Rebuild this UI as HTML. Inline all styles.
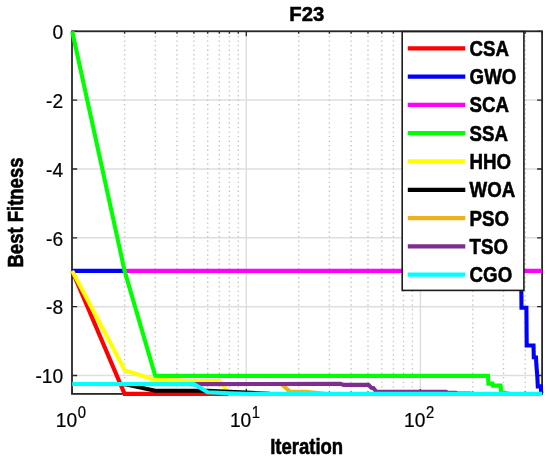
<!DOCTYPE html>
<html><head><meta charset="utf-8"><title>F23</title>
<style>
html,body{margin:0;padding:0;background:#fff;}
body{width:550px;height:460px;overflow:hidden;}
svg{display:block;}
text{font-family:"Liberation Sans",Arial,Helvetica,sans-serif;fill:#000;stroke:#000;stroke-width:0.2px;}
text.b{font-weight:bold;fill:#000;stroke:#000;stroke-width:0.5px;}
</style></head><body>
<svg width="550" height="460" viewBox="0 0 550 460">
<rect width="550" height="460" fill="#fff"/>
<line x1="72.2" x2="542.1" y1="31.3" y2="31.3" stroke="#dedede" stroke-width="1.5"/>
<line x1="72.2" x2="542.1" y1="100.1" y2="100.1" stroke="#dedede" stroke-width="1.5"/>
<line x1="72.2" x2="542.1" y1="169.0" y2="169.0" stroke="#dedede" stroke-width="1.5"/>
<line x1="72.2" x2="542.1" y1="237.8" y2="237.8" stroke="#dedede" stroke-width="1.5"/>
<line x1="72.2" x2="542.1" y1="306.7" y2="306.7" stroke="#dedede" stroke-width="1.5"/>
<line x1="72.2" x2="542.1" y1="375.5" y2="375.5" stroke="#dedede" stroke-width="1.5"/>
<line x1="124.6" x2="124.6" y1="31.3" y2="393.9" stroke="#c6c6c6" stroke-width="1.4" stroke-dasharray="1.4 3.15"/>
<line x1="155.3" x2="155.3" y1="31.3" y2="393.9" stroke="#c6c6c6" stroke-width="1.4" stroke-dasharray="1.4 3.15"/>
<line x1="177.0" x2="177.0" y1="31.3" y2="393.9" stroke="#c6c6c6" stroke-width="1.4" stroke-dasharray="1.4 3.15"/>
<line x1="193.9" x2="193.9" y1="31.3" y2="393.9" stroke="#c6c6c6" stroke-width="1.4" stroke-dasharray="1.4 3.15"/>
<line x1="207.7" x2="207.7" y1="31.3" y2="393.9" stroke="#c6c6c6" stroke-width="1.4" stroke-dasharray="1.4 3.15"/>
<line x1="219.3" x2="219.3" y1="31.3" y2="393.9" stroke="#c6c6c6" stroke-width="1.4" stroke-dasharray="1.4 3.15"/>
<line x1="229.4" x2="229.4" y1="31.3" y2="393.9" stroke="#c6c6c6" stroke-width="1.4" stroke-dasharray="1.4 3.15"/>
<line x1="238.3" x2="238.3" y1="31.3" y2="393.9" stroke="#c6c6c6" stroke-width="1.4" stroke-dasharray="1.4 3.15"/>
<line x1="246.3" x2="246.3" y1="31.3" y2="393.9" stroke="#dedede" stroke-width="1.5"/>
<line x1="298.7" x2="298.7" y1="31.3" y2="393.9" stroke="#c6c6c6" stroke-width="1.4" stroke-dasharray="1.4 3.15"/>
<line x1="329.4" x2="329.4" y1="31.3" y2="393.9" stroke="#c6c6c6" stroke-width="1.4" stroke-dasharray="1.4 3.15"/>
<line x1="351.1" x2="351.1" y1="31.3" y2="393.9" stroke="#c6c6c6" stroke-width="1.4" stroke-dasharray="1.4 3.15"/>
<line x1="368.0" x2="368.0" y1="31.3" y2="393.9" stroke="#c6c6c6" stroke-width="1.4" stroke-dasharray="1.4 3.15"/>
<line x1="381.8" x2="381.8" y1="31.3" y2="393.9" stroke="#c6c6c6" stroke-width="1.4" stroke-dasharray="1.4 3.15"/>
<line x1="393.4" x2="393.4" y1="31.3" y2="393.9" stroke="#c6c6c6" stroke-width="1.4" stroke-dasharray="1.4 3.15"/>
<line x1="403.5" x2="403.5" y1="31.3" y2="393.9" stroke="#c6c6c6" stroke-width="1.4" stroke-dasharray="1.4 3.15"/>
<line x1="412.4" x2="412.4" y1="31.3" y2="393.9" stroke="#c6c6c6" stroke-width="1.4" stroke-dasharray="1.4 3.15"/>
<line x1="420.4" x2="420.4" y1="31.3" y2="393.9" stroke="#dedede" stroke-width="1.5"/>
<line x1="472.8" x2="472.8" y1="31.3" y2="393.9" stroke="#c6c6c6" stroke-width="1.4" stroke-dasharray="1.4 3.15"/>
<line x1="503.5" x2="503.5" y1="31.3" y2="393.9" stroke="#c6c6c6" stroke-width="1.4" stroke-dasharray="1.4 3.15"/>
<line x1="525.2" x2="525.2" y1="31.3" y2="393.9" stroke="#c6c6c6" stroke-width="1.4" stroke-dasharray="1.4 3.15"/>
<line x1="542.1" x2="542.1" y1="31.3" y2="393.9" stroke="#c6c6c6" stroke-width="1.4" stroke-dasharray="1.4 3.15"/>
<rect x="72.0" y="31.3" width="470.1" height="362.6" fill="none" stroke="#262626" stroke-width="1.8"/>
<path d="M72.2 31.3h5M542.1 31.3h-5M72.2 100.1h5M542.1 100.1h-5M72.2 169.0h5M542.1 169.0h-5M72.2 237.8h5M542.1 237.8h-5M72.2 306.7h5M542.1 306.7h-5M72.2 375.5h5M542.1 375.5h-5M72.2 393.9v-5M72.2 31.3v5M124.6 393.9v-2.5M124.6 31.3v2.5M155.3 393.9v-2.5M155.3 31.3v2.5M177.0 393.9v-2.5M177.0 31.3v2.5M193.9 393.9v-2.5M193.9 31.3v2.5M207.7 393.9v-2.5M207.7 31.3v2.5M219.3 393.9v-2.5M219.3 31.3v2.5M229.4 393.9v-2.5M229.4 31.3v2.5M238.3 393.9v-2.5M238.3 31.3v2.5M246.3 393.9v-5M246.3 31.3v5M298.7 393.9v-2.5M298.7 31.3v2.5M329.4 393.9v-2.5M329.4 31.3v2.5M351.1 393.9v-2.5M351.1 31.3v2.5M368.0 393.9v-2.5M368.0 31.3v2.5M381.8 393.9v-2.5M381.8 31.3v2.5M393.4 393.9v-2.5M393.4 31.3v2.5M403.5 393.9v-2.5M403.5 31.3v2.5M412.4 393.9v-2.5M412.4 31.3v2.5M420.4 393.9v-5M420.4 31.3v5M472.8 393.9v-2.5M472.8 31.3v2.5M503.5 393.9v-2.5M503.5 31.3v2.5M525.2 393.9v-2.5M525.2 31.3v2.5M542.1 393.9v-2.5M542.1 31.3v2.5" stroke="#262626" stroke-width="1.3" fill="none"/>
<clipPath id="c"><rect x="70.2" y="29.3" width="473.4" height="366.9"/></clipPath>
<g clip-path="url(#c)" fill="none" stroke-linejoin="miter" stroke-linecap="butt">
<polyline points="72.2,270.9 124.6,393.9 252.0,393.9" stroke="#ff0000" stroke-width="4.1"/>
<polyline points="72.2,270.9 123.0,270.9" stroke="#0000ff" stroke-width="4.1"/>
<polyline points="518.0,270.9 521.2,270.9 521.5,307.7 526.4,307.7 526.7,345.5 533.5,345.5 533.8,357.3 536.0,357.5 536.4,365.0 537.3,376.0 537.8,386.4 540.8,386.4 541.2,392.0 542.1,393.5" stroke="#0000ff" stroke-width="4.1"/>
<polyline points="123.0,270.9 542.1,270.9" stroke="#ff00ff" stroke-width="4.1"/>
<polyline points="72.2,31.3 124.6,270.9 155.3,375.9 488.0,375.9 488.4,383.6 492.5,383.6 493.0,385.6 500.6,385.6 501.2,392.0 509.0,393.8" stroke="#00ff00" stroke-width="4.1"/>
<polyline points="72.2,270.9 124.9,370.4 155.3,379.9 185.0,380.8 219.3,381.0 229.4,393.8 252.0,393.9" stroke="#ffff00" stroke-width="4.1"/>
<polyline points="122.0,384.2 125.2,384.2 155.3,390.7 207.7,390.8 246.0,392.6 270.0,393.9" stroke="#000000" stroke-width="4.1"/>
<polyline points="280.5,384.5 282.0,384.5 290.0,391.8 306.0,391.8 325.0,393.9" stroke="#edb120" stroke-width="4.1"/>
<polyline points="190.0,384.1 340.5,383.9 343.5,384.9 368.5,384.9 371.5,387.9 373.5,388.1 376.2,391.8 446.0,391.8 447.5,392.8 456.0,392.9 457.5,393.4 470.0,393.5 472.0,394.0" stroke="#7e2f8e" stroke-width="4.1"/>
<polyline points="72.2,384.0 193.9,384.1 207.7,392.2 229.4,393.3 246.3,393.9 542.1,393.9" stroke="#00ffff" stroke-width="4.1"/>
</g>
<rect x="402.2" y="31.6" width="121.7" height="258.8" fill="#fff" stroke="#1c1c1c" stroke-width="1.6"/>
<line x1="407.8" x2="465.3" y1="48.3" y2="48.3" stroke="#ff0000" stroke-width="4.3"/>
<text class="b" transform="translate(469.6,55.8) scale(1,1.22)" text-anchor="start" font-size="18.7">CSA</text>
<line x1="407.8" x2="465.3" y1="76.6" y2="76.6" stroke="#0000ff" stroke-width="4.3"/>
<text class="b" transform="translate(469.6,84.1) scale(1,1.22)" text-anchor="start" font-size="18.7">GWO</text>
<line x1="407.8" x2="465.3" y1="104.9" y2="104.9" stroke="#ff00ff" stroke-width="4.3"/>
<text class="b" transform="translate(469.6,112.4) scale(1,1.22)" text-anchor="start" font-size="18.7">SCA</text>
<line x1="407.8" x2="465.3" y1="133.2" y2="133.2" stroke="#00ff00" stroke-width="4.3"/>
<text class="b" transform="translate(469.6,140.7) scale(1,1.22)" text-anchor="start" font-size="18.7">SSA</text>
<line x1="407.8" x2="465.3" y1="161.5" y2="161.5" stroke="#ffff00" stroke-width="4.3"/>
<text class="b" transform="translate(469.6,169.0) scale(1,1.22)" text-anchor="start" font-size="18.7">HHO</text>
<line x1="407.8" x2="465.3" y1="189.8" y2="189.8" stroke="#000000" stroke-width="4.3"/>
<text class="b" transform="translate(469.6,197.3) scale(1,1.22)" text-anchor="start" font-size="18.7">WOA</text>
<line x1="407.8" x2="465.3" y1="218.1" y2="218.1" stroke="#edb120" stroke-width="4.3"/>
<text class="b" transform="translate(469.6,225.6) scale(1,1.22)" text-anchor="start" font-size="18.7">PSO</text>
<line x1="407.8" x2="465.3" y1="246.4" y2="246.4" stroke="#7e2f8e" stroke-width="4.3"/>
<text class="b" transform="translate(469.6,253.9) scale(1,1.22)" text-anchor="start" font-size="18.7">TSO</text>
<line x1="407.8" x2="465.3" y1="274.7" y2="274.7" stroke="#00ffff" stroke-width="4.3"/>
<text class="b" transform="translate(469.6,282.2) scale(1,1.22)" text-anchor="start" font-size="18.7">CGO</text>
<text class="r" transform="translate(63.2,39.0) scale(1,1.095)" text-anchor="end" font-size="19.2">0</text>
<text class="r" transform="translate(63.2,107.8) scale(1,1.095)" text-anchor="end" font-size="19.2">-2</text>
<text class="r" transform="translate(63.2,176.6) scale(1,1.095)" text-anchor="end" font-size="19.2">-4</text>
<text class="r" transform="translate(63.2,245.5) scale(1,1.095)" text-anchor="end" font-size="19.2">-6</text>
<text class="r" transform="translate(63.2,314.3) scale(1,1.095)" text-anchor="end" font-size="19.2">-8</text>
<text class="r" transform="translate(63.2,383.2) scale(1,1.095)" text-anchor="end" font-size="19.2">-10</text>
<text class="r" transform="translate(55.8,426.5) scale(1,1.095)" text-anchor="start" font-size="19.2">10<tspan dx="0.6" dy="-7.5" font-size="14.8">0</tspan></text>
<text class="r" transform="translate(229.9,426.5) scale(1,1.095)" text-anchor="start" font-size="19.2">10<tspan dx="0.6" dy="-7.5" font-size="14.8">1</tspan></text>
<text class="r" transform="translate(404.0,426.5) scale(1,1.095)" text-anchor="start" font-size="19.2">10<tspan dx="0.6" dy="-7.5" font-size="14.8">2</tspan></text>
<text class="b" transform="translate(306.8,21.4) scale(1,1.0)" text-anchor="middle" font-size="20.3">F23</text>
<text class="b" transform="translate(306.7,454.0) scale(1,1.22)" text-anchor="middle" font-size="18.5">Iteration</text>
<text class="b" transform="translate(22.6,212.5) rotate(-90) scale(1,1.22)" text-anchor="middle" font-size="18.5">Best Fitness</text>
</svg>
</body></html>
